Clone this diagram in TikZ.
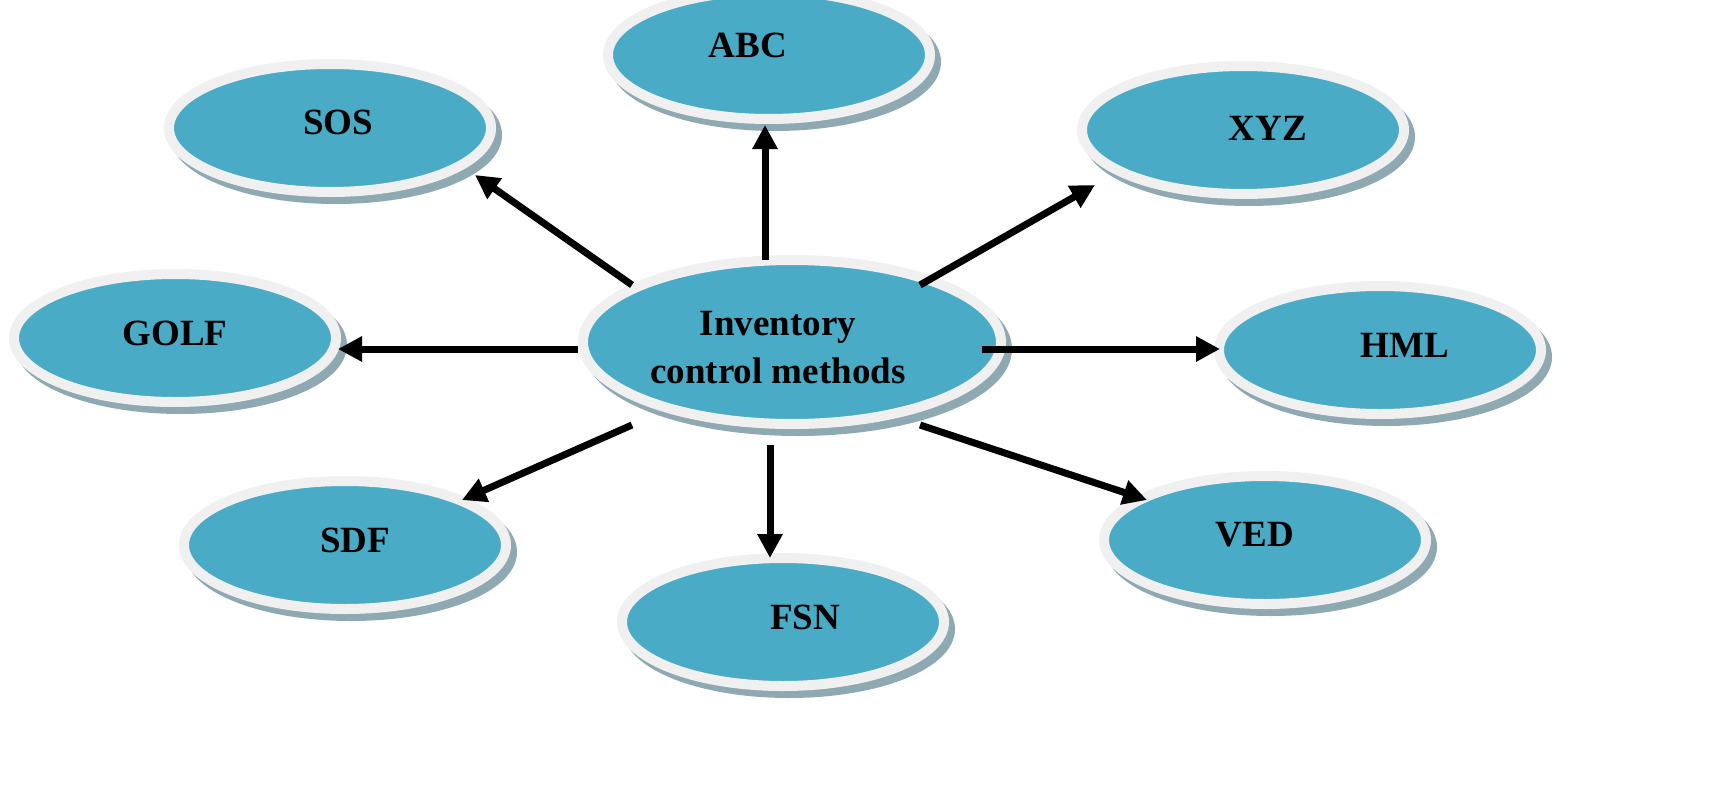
\documentclass[tikz,border=0pt]{standalone}
\usepackage{fontspec}
\setmainfont{Liberation Serif}
\usetikzlibrary{shapes.geometric,arrows.meta}
\definecolor{blu}{HTML}{4AABC6}
\definecolor{shd}{HTML}{8FA9B3}
\definecolor{rim}{HTML}{F0F0F0}
\tikzset{
 x=0.5pt,y=-0.5pt,
 ov/.style={ellipse,minimum width=161pt,minimum height=64pt,fill=blu,draw=rim,line width=5pt,
   inner sep=0pt,
   preaction={fill=shd,draw=shd,line width=5pt,transform canvas={shift={(3pt,-3.5pt)}}}},
 lbl/.style={font=\bfseries\fontsize{18.5}{20}\selectfont,align=center},
 ar/.style={line width=3.5pt,-{Triangle[length=12pt,width=12pt]}}
}
\begin{document}
\begin{tikzpicture}
\node[ov] (sos) at (330,128) {};
\node[ov] (abc) at (769,55) {};
\node[ov] (xyz) at (1243,130) {};
\node[ov] (golf) at (175,338) {};
\node[ov] (hml) at (1380,350) {};
\node[ov] (sdf) at (345,545) {};
\node[ov] (fsn) at (783,622) {};
\node[ov] (ved) at (1265,540) {};
\node[ov,minimum width=209pt,minimum height=82pt] (c) at (792,342) {};
\node[lbl] at (338,122) {SOS};
\node[lbl] at (748,45) {ABC};
\node[lbl] at (1268,128) {XYZ};
\node[lbl] at (175,333) {GOLF};
\node[lbl] at (1405,345) {HML};
\node[lbl] at (355,540) {SDF};
\node[lbl] at (805,617) {FSN};
\node[lbl] at (1255,535) {VED};
\node[lbl,font=\bfseries\fontsize{18.5}{24}\selectfont] at (778,348) {Inventory\\control methods};
\coordinate (s1) at (632,285); \coordinate (e1) at (475,175);
\coordinate (s2) at (765,260); \coordinate (e2) at (765,125);
\coordinate (s3) at (920,285); \coordinate (e3) at (1095,185);
\coordinate (s4) at (578,349); \coordinate (e4) at (338,349);
\coordinate (s5) at (982,349); \coordinate (e5) at (1220,349);
\coordinate (s6) at (632,425); \coordinate (e6) at (462,500);
\coordinate (s7) at (770,445); \coordinate (e7) at (770,558);
\coordinate (s8) at (920,425); \coordinate (e8) at (1147,500);
\foreach \i in {1,...,8} \draw[ar] (s\i) -- (e\i);
\pgfresetboundingbox
\useasboundingbox (0,0) rectangle (1731,803);
\end{tikzpicture}
\end{document}
